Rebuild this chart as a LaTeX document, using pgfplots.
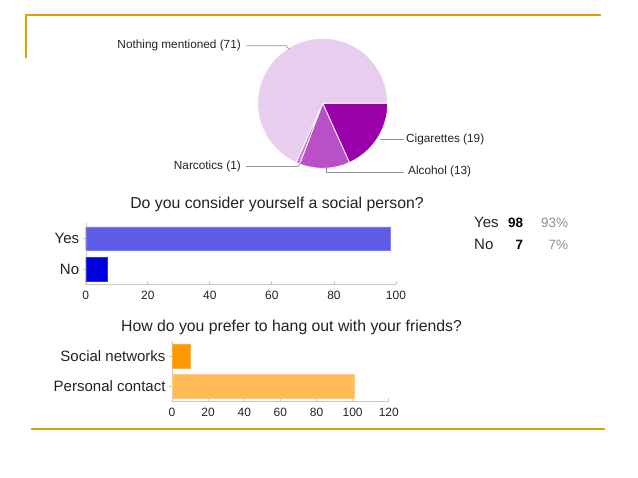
\documentclass[border=0pt]{standalone}
\usepackage{pgfplots}
\pgfplotsset{compat=1.18}
\usepackage{pgfplotstable}
\usepackage{fontspec}
\setmainfont{Liberation Sans}

\definecolor{slidegold}{RGB}{220,160,10}
\definecolor{cNothing}{RGB}{232,206,238}
\definecolor{cCig}{RGB}{153,0,170}
\definecolor{cAlc}{RGB}{185,80,200}
\definecolor{cNarc}{RGB}{205,120,220}
\definecolor{cYes}{RGB}{92,92,230}
\definecolor{cNo}{RGB}{0,0,220}
\definecolor{cSoc}{RGB}{255,153,0}
\definecolor{cPers}{RGB}{255,187,85}
\definecolor{leader}{RGB}{150,150,150}
\definecolor{axgray}{RGB}{200,200,200}
\definecolor{txt}{RGB}{34,34,34}

% Pie values
\def\vNothing{71}
\def\vCig{19}
\def\vAlc{13}
\def\vNarc{1}

% Bar data
\pgfplotstableread{
pos value
1 98
0 7
}\socialdata
\pgfplotstableread{
pos value
1 10
0 101
}\hangdata

\begin{document}
\begin{tikzpicture}
\path (0,0) rectangle (638pt,478pt);

% slide decoration (filled strips)
\fill[slidegold] (25.3pt,419.7pt) rectangle (27.3pt,463.5pt);
\fill[slidegold] (25.3pt,461.5pt) rectangle (600.7pt,463.5pt);
\fill[slidegold] (31pt,47.5pt) rectangle (605pt,49.5pt);

% ---------- Pie chart ----------
\pgfmathsetmacro\tot{\vNothing+\vCig+\vAlc+\vNarc}
\pgfmathsetmacro\aA{0}
\pgfmathsetmacro\aB{-\vCig/\tot*360}
\pgfmathsetmacro\aC{\aB-\vAlc/\tot*360}
\pgfmathsetmacro\aD{\aC-\vNarc/\tot*360}
\pgfmathsetmacro\aE{-360}
\begin{axis}[at={(322.7pt,374.7pt)}, anchor=center, scale only axis,
  width=130pt, height=130pt, xmin=-1, xmax=1, ymin=-1, ymax=1, hide axis,
  clip=false]
  \filldraw[fill=cCig, draw=white, line width=0.8pt] (axis cs:0,0) -- ++(\aA:65pt) arc[start angle=\aA, end angle=\aB, radius=65pt] -- cycle;
  \filldraw[fill=cAlc, draw=white, line width=0.8pt] (axis cs:0,0) -- ++(\aB:65pt) arc[start angle=\aB, end angle=\aC, radius=65pt] -- cycle;
  \filldraw[fill=cNarc, draw=white, line width=0.8pt] (axis cs:0,0) -- ++(\aC:65pt) arc[start angle=\aC, end angle=\aD, radius=65pt] -- cycle;
  \filldraw[fill=cNothing, draw=white, line width=0.8pt] (axis cs:0,0) -- ++(\aD:65pt) arc[start angle=\aD, end angle=\aE, radius=65pt] -- cycle;
\end{axis}

% pie labels and leaders
\begin{scope}[font=\fontsize{11.8pt}{13pt}\selectfont, text=txt, inner sep=0pt]
\draw[leader, line width=0.8pt] (246pt,432.2pt) -- (286pt,432.2pt) -- (289.6pt,428.5pt);
\node[anchor=mid east] at (241pt,432.2pt) {Nothing mentioned (71)};
\draw[leader, line width=0.8pt] (380pt,338.2pt) -- (403.5pt,338.2pt);
\node[anchor=mid west] at (406pt,338.2pt) {Cigarettes (19)};
\draw[leader, line width=0.8pt] (326.5pt,310.3pt) -- (326.5pt,306pt) -- (403.5pt,306pt);
\node[anchor=mid west] at (408pt,306.5pt) {Alcohol (13)};
\draw[leader, line width=0.8pt] (246pt,311.4pt) -- (298pt,311.4pt) -- (300.7pt,315.4pt);
\node[anchor=mid east] at (241pt,311.4pt) {Narcotics (1)};
\end{scope}

% common bar axis style
\pgfplotsset{barax/.style={
  scale only axis,
  /pgf/number format/assume math mode=true,
  axis x line*=bottom, axis y line*=left,
  axis line style={axgray, -},
  tick style={axgray, line width=0.8pt},
  major tick length=3pt,
  xtick align=inside, ytick align=outside,
  ymin=-0.5, ymax=1.5, ytick={0,1},
  tick label style={text=txt},
  xticklabel style={font=\fontsize{12pt}{13pt}\selectfont, yshift=-3.5pt},
  yticklabel style={font=\fontsize{15pt}{16pt}\selectfont},
  clip=false,
}}

% ---------- Bar chart 1 ----------
\node[font=\fontsize{15.8pt}{18pt}\selectfont, text=txt] at (277pt,273.5pt) {Do you consider yourself a social person?};
\begin{axis}[barax, at={(85.7pt,193.5pt)}, anchor=south west,
  width=310.3pt, height=61pt, xmin=0, xmax=100,
  xtick={0,20,40,60,80,100}, yticklabels={No,Yes}]
  \addplot[xbar, bar shift=0pt, bar width=23.5pt, fill=cYes, draw=cYes!80!white]
    table[x=value, y=pos] {\socialdata} ;
  \addplot[xbar, bar shift=0pt, bar width=23.5pt, fill=cNo, draw=cNo!80!white]
    table[x=value, y=pos, restrict expr to domain={\thisrow{pos}}{0:0}] {\socialdata};
\end{axis}

% right summary table
\begin{scope}[font=\fontsize{15pt}{17pt}\selectfont, inner sep=0pt]
\node[anchor=mid west, text=txt] at (474pt,253pt) {Yes};
\node[anchor=mid east, text=black, font=\fontsize{13.5pt}{16pt}\selectfont\bfseries] at (523.3pt,253pt) {98};
\node[anchor=mid east, text=black!45, font=\fontsize{13.5pt}{16pt}\selectfont] at (568.3pt,253pt) {93\%};
\node[anchor=mid west, text=txt] at (474pt,230.7pt) {No};
\node[anchor=mid east, text=black, font=\fontsize{13.5pt}{16pt}\selectfont\bfseries] at (523.3pt,230.7pt) {7};
\node[anchor=mid east, text=black!45, font=\fontsize{13.5pt}{16pt}\selectfont] at (568.3pt,230.7pt) {7\%};
\end{scope}

% ---------- Bar chart 2 ----------
\node[font=\fontsize{15.8pt}{18pt}\selectfont, text=txt] at (291.5pt,150.7pt) {How do you prefer to hang out with your friends?};
\begin{axis}[barax, at={(172pt,76.5pt)}, anchor=south west,
  width=216.8pt, height=60.5pt, xmin=0, xmax=120,
  xtick={0,20,40,60,80,100,120}, yticklabels={Personal contact,Social networks}]
  \addplot[xbar, bar shift=0pt, bar width=23.5pt, fill=cSoc, draw=cSoc!80!white]
    table[x=value, y=pos, restrict expr to domain={\thisrow{pos}}{1:1}] {\hangdata};
  \addplot[xbar, bar shift=0pt, bar width=23.5pt, fill=cPers, draw=cPers!80!white]
    table[x=value, y=pos, restrict expr to domain={\thisrow{pos}}{0:0}] {\hangdata};
\end{axis}
\end{tikzpicture}
\end{document}
